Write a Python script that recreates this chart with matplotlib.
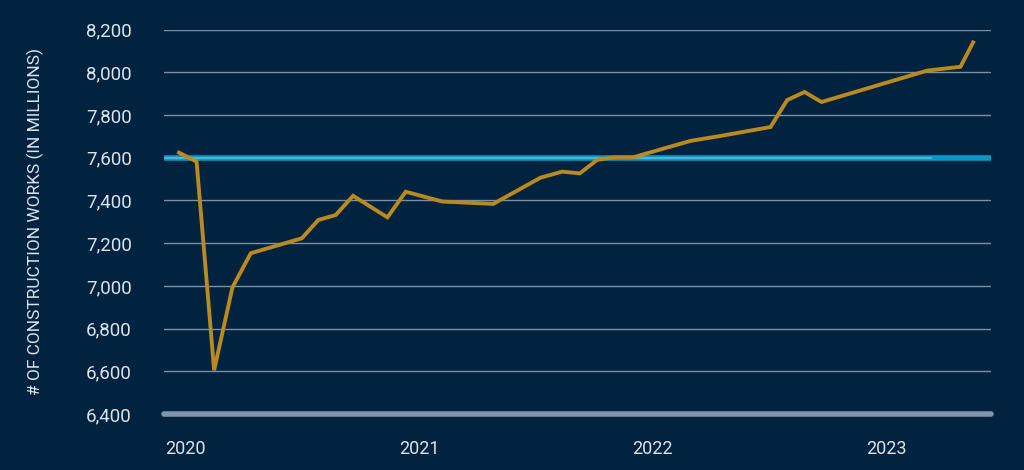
import matplotlib.pyplot as plt
import matplotlib.ticker as ticker

# data (x = months since Jan 2020)
months = [0.73, 1.63, 2.53, 3.47, 4.41, 7.03, 7.88, 8.77, 9.66, 11.42,
          12.36, 14.24, 16.85, 19.28, 20.39, 21.29, 22.18, 23.04, 24.02, 26.97,
          28.50, 31.08, 31.93, 32.82, 33.69, 39.11, 40.82, 41.47]
workers = [7624, 7582, 6605, 6993, 7153, 7223, 7309, 7332, 7422, 7321,
           7441, 7395, 7384, 7507, 7535, 7527, 7590, 7602, 7602, 7679,
           7702, 7744, 7870, 7908, 7861, 8008, 8026, 8140]
baseline = 7600
year_labels = ["2020", "2021", "2022", "2023"]
year_pos = [0, 12, 24, 36]
y_ticks = [6400, 6600, 6800, 7000, 7200, 7400, 7600, 7800, 8000, 8200]

bg = "#012340"
text_col = "#dbe3ec"
grid_col = "#7e8fa3"
gold = "#b98a1f"
blue = "#0a98ca"

plt.rcParams["font.family"] = ["Roboto", "DejaVu Sans"]

fig = plt.figure(figsize=(10.24, 4.7), dpi=100, facecolor=bg)
ax = fig.add_axes([0.160, 0.119, 0.808, 0.818])
ax.set_facecolor(bg)

ax.set_xlim(-0.05, 42.4)
ax.set_ylim(6400, 8200)

# gridlines
for v in y_ticks[1:]:
    ax.axhline(v, color=grid_col, lw=1, zorder=1)

# bottom axis line
ax.axhline(6400, color="#8196ab", lw=4, solid_capstyle="round", clip_on=False, zorder=2)

# blue reference line
ax.axhline(baseline, color=blue, lw=4, solid_capstyle="round", zorder=2)
ax.axhline(baseline, xmax=0.927, color="#5ab9de", lw=1.2, zorder=2)

ax.plot(months, workers, color=gold, lw=2.8, solid_joinstyle="miter", zorder=3)

for s in ax.spines.values():
    s.set_visible(False)

ax.set_yticks(y_ticks)
ax.yaxis.set_major_formatter(ticker.FuncFormatter(lambda v, p: f"{int(v):,}"))
ax.tick_params(axis="y", length=0, pad=23, labelsize=13.5, labelcolor=text_col)

ax.set_xticks(year_pos)
ax.set_xticklabels(year_labels, ha="left")
ax.tick_params(axis="x", length=0, pad=19, labelsize=13, labelcolor=text_col)

ax.set_ylabel("# OF CONSTRUCTION WORKS (IN MILLIONS)", color=text_col, fontsize=12.5, labelpad=30)

fig.savefig("out.png", dpi=100, facecolor=bg)
